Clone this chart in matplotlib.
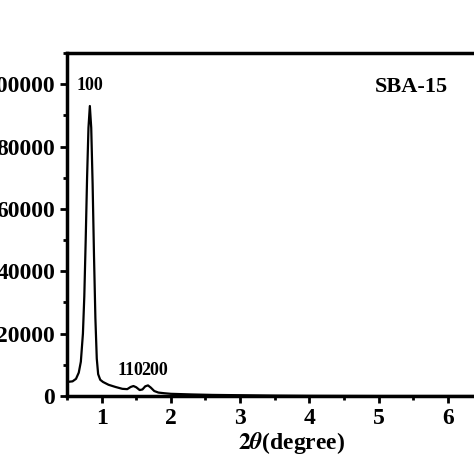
import matplotlib
matplotlib.use("Agg")
import matplotlib.pyplot as plt
from matplotlib.ticker import MultipleLocator

two_theta = [0.5, 0.58, 0.63, 0.67, 0.7, 0.73, 0.75, 0.77, 0.79, 0.81, 0.83, 0.85, 0.87, 0.89, 0.91, 0.93, 0.95, 0.98, 1.02, 1.1, 1.2, 1.3, 1.37, 1.42, 1.46, 1.5, 1.55, 1.59, 1.63, 1.67, 1.71, 1.76, 1.82, 1.9, 2.0, 2.3, 2.6, 3.0, 3.5, 4.0, 5.0, 6.0, 7.0]
intensity = [4500, 4700, 5500, 7500, 11000, 20000, 32000, 50000, 70000, 86000, 93000, 86000, 68000, 45000, 25000, 12000, 7000, 5200, 4500, 3600, 2900, 2300, 2200, 2900, 3200, 2800, 1900, 2100, 3100, 3400, 2700, 1600, 1100, 900, 700, 500, 350, 250, 120, 50, 0, 0, 0]
peak_labels = ["100", "110", "200"]
peak_pos = [(0.83, 97000), (1.42, 5500), (1.76, 5500)]

plt.rcParams['font.family'] = ['Liberation Serif']
plt.rcParams['font.weight'] = 'bold'
plt.rcParams['mathtext.fontset'] = 'stix'
fig = plt.figure(figsize=(4.74, 4.74), dpi=100)
ax = fig.add_axes([67/474, 78/474, 450/474, 343/474])
ax.plot(two_theta, intensity, color='black', lw=1.6)
ax.set_xlim(0.5, 7.0)
ax.set_ylim(0, 110000)
ax.xaxis.set_major_locator(MultipleLocator(1))
ax.xaxis.set_minor_locator(MultipleLocator(0.5))
ax.yaxis.set_major_locator(MultipleLocator(20000))
ax.yaxis.set_minor_locator(MultipleLocator(10000))
ax.tick_params(which='major', direction='out', length=5, width=2, labelsize=17)
ax.tick_params(which='minor', direction='out', length=3, width=2)
for s in ax.spines.values():
    s.set_linewidth(2.5)
for lab, (x, y) in zip(peak_labels, peak_pos):
    ax.text(x, y, lab, ha='center', va='bottom', fontsize=13, fontweight='bold')
ax.text(6.0, 99000, "SBA-15", ha='right', va='center', fontsize=16, fontweight='bold')
ax.set_xlabel(r"$\mathbf{\mathit{2\theta}}$(degree)", fontsize=17, fontweight='bold', labelpad=1)
fig.savefig("out.png", dpi=100)
